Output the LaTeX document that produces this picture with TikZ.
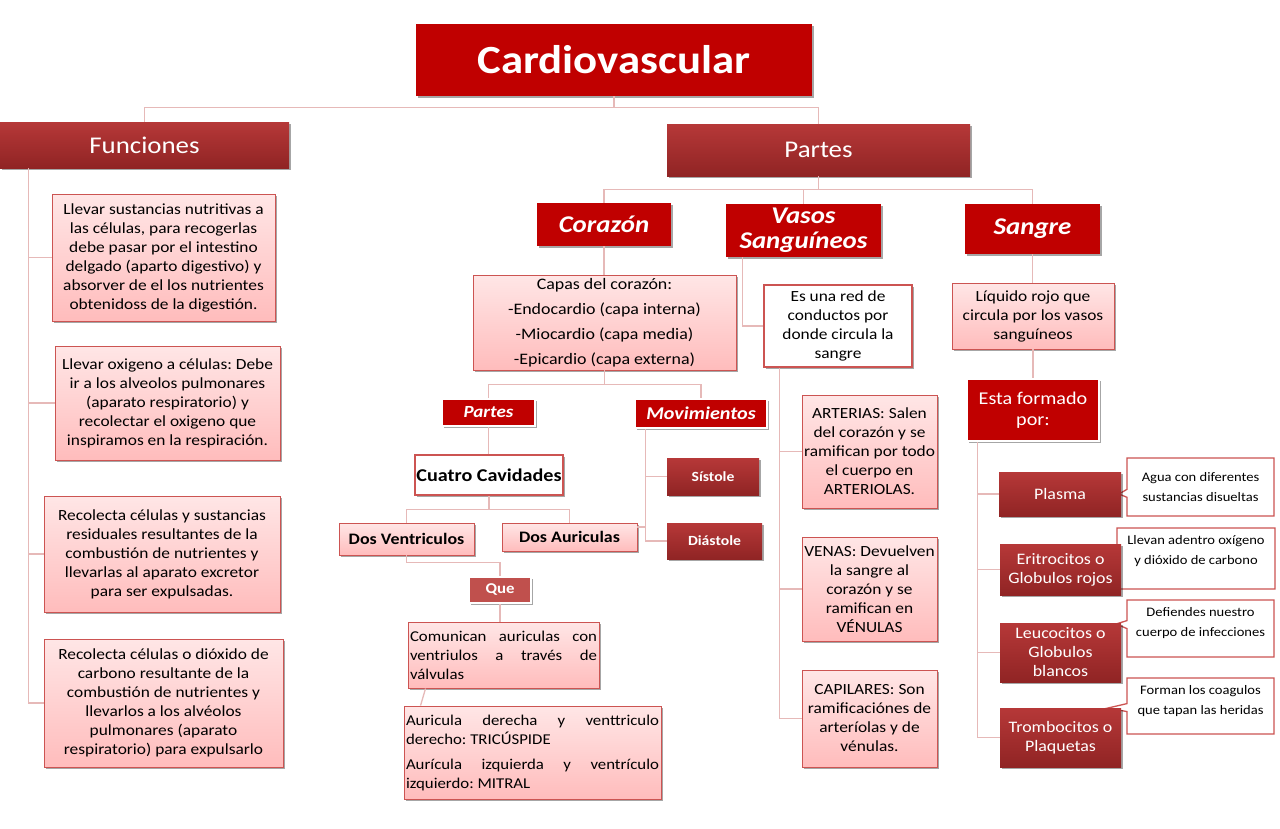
\documentclass[tikz,border=0pt]{standalone}
\usepackage{fontspec}
\setmainfont{Carlito}[FakeStretch=1.12]
\usetikzlibrary{shadows,shapes.callouts}
\frenchspacing
\definecolor{cred}{RGB}{192,0,0}
\definecolor{gtop}{RGB}{182,56,56}
\definecolor{gbot}{RGB}{144,36,36}
\definecolor{ptop}{RGB}{255,230,230}
\definecolor{pbot}{RGB}{255,188,188}
\definecolor{pline}{RGB}{204,84,82}
\definecolor{conc}{RGB}{230,185,184}
\definecolor{quec}{RGB}{192,80,77}
\newcommand\bx[7]{%
  \pgfmathsetmacro\bxw{#5-#3}\pgfmathsetmacro\bxh{#6-#4}%
  \pgfmathsetmacro\bxcx{(#3+#5)/2}\pgfmathsetmacro\bxcy{(#4+#6)/2}%
  \node[#2, minimum width=\bxw pt, minimum height=\bxh pt] (#1) at (\bxcx,\bxcy) {#7};}
\begin{document}
\begin{tikzpicture}[x=1pt,y=-1pt,
  conn/.style={draw=conc, line width=1.3pt},
  shad/.style={drop shadow={shadow xshift=1.5pt,shadow yshift=-1.8pt,fill=black,opacity=0.35}},
  base/.style={inner sep=0pt, align=center},
  darkbox/.style={base, fill=cred, text=white, shad},
  gradbox/.style={base, top color=gtop, bottom color=gbot, text=white, shad},
  pinkbox/.style={base, top color=ptop, bottom color=pbot, draw=pline, line width=0.9pt, shad},
  whitebox/.style={base, fill=white, draw=pline, line width=1.6pt, shad},
  framed/.style={darkbox, draw=white, line width=2.5pt},
  callbox/.style={base, rectangle callout, callout pointer width=8pt, fill=white, draw=pline, line width=1.3pt},
  ftxt/.style={font=\fontsize{15.5}{19}\selectfont},
]
\useasboundingbox (0,0) rectangle (1280,828);
\fill[white] (0,0) rectangle (1280,828);

% top level
\bx{cardio}{darkbox,font=\fontsize{40}{44}\bfseries}{416}{24}{812}{96}{Cardiovascular}
\bx{fun}{gradbox,font=\fontsize{24}{28}\selectfont}{0}{122}{289}{168}{Funciones}
\bx{partes}{gradbox,font=\fontsize{24}{28}\selectfont}{667}{124}{970}{176}{Partes}
\bx{cor}{darkbox,font=\fontsize{24}{28}\bfseries\itshape}{537}{203}{671}{246}{Corazón}
\bx{vas}{darkbox,font=\fontsize{24}{28}\bfseries\itshape}{726}{204}{881}{257}{\raisebox{-3pt}{Vasos}\\Sanguíneos}
\bx{san}{darkbox,font=\fontsize{24}{28}\bfseries\itshape}{965}{204}{1100}{254}{Sangre}

% funciones
\bx{f1}{pinkbox,ftxt}{52}{194}{275}{321}{Llevar sustancias nutritivas a\\las células, para recogerlas\\debe pasar por el intestino\\delgado (aparto digestivo) y\\absorver de el los nutrientes\\obtenidoss de la digestión.}
\bx{f2}{pinkbox,ftxt}{55}{346}{280}{460}{Llevar oxigeno a células: Debe\\ir a los alveolos pulmonares\\(aparato respiratorio) y\\recolectar el oxigeno que\\inspiramos en la respiración.}
\bx{f3}{pinkbox,ftxt}{44}{496}{280}{612}{Recolecta células y sustancias\\residuales resultantes de la\\combustión de nutrientes y\\llevarlas al aparato excretor\\para ser expulsadas.}
\bx{f4}{pinkbox,ftxt}{44}{639}{283}{767}{Recolecta células o dióxido de\\carbono resultante de la\\combustión de nutrientes y\\llevarlos a los alvéolos\\pulmonares (aparato\\respiratorio) para expulsarlo}

% corazon
\bx{capas}{pinkbox,font=\fontsize{16}{25}\selectfont}{473}{275}{736}{370}{Capas del corazón:\\-Endocardio (capa interna)\\-Miocardio (capa media)\\-Epicardio (capa externa)}
\bx{p2}{framed,font=\fontsize{17}{20}\bfseries\itshape}{442}{399}{535}{426}{Partes}
\bx{mov}{framed,font=\fontsize{18}{21}\bfseries\itshape}{635}{399}{767}{428}{Movimientos}
\bx{cuatro}{whitebox,font=\fontsize{18}{21}\bfseries}{415}{455}{563}{495}{Cuatro Cavidades}
\bx{dv}{pinkbox,font=\fontsize{16}{19}\bfseries}{339}{523}{474}{555}{Dos Ventriculos}
\bx{da}{pinkbox,font=\fontsize{16}{19}\bfseries}{502}{523}{637}{551}{Dos Auriculas}
\bx{que}{framed,fill=quec,font=\fontsize{15}{18}\bfseries}{469}{577}{531}{603}{Que}
\bx{com}{pinkbox,align=left,font=\fontsize{15}{19}\selectfont}{408}{622}{599}{688}{\makebox[187pt][s]{Comunican auriculas con}\\\makebox[187pt][s]{ventriulos a través de}\\válvulas}
\bx{aur}{pinkbox,align=left,font=\fontsize{15}{19}\selectfont}{404}{706}{661}{799}{\makebox[253pt][s]{Auricula derecha y venttriculo}\\derecho: TRICÚSPIDE\\[6pt]\makebox[253pt][s]{Aurícula izquierda y ventrículo}\\izquierdo: MITRAL}
\bx{sis}{gradbox,font=\fontsize{14}{17}\bfseries}{667}{458}{759}{495}{Sístole}
\bx{dia}{gradbox,font=\fontsize{14}{17}\bfseries}{667}{523}{762}{559}{Diástole}

% vasos
\bx{esred}{whitebox,ftxt}{764}{285}{912}{367}{Es una red de\\conductos por\\donde circula la\\sangre}
\bx{art}{pinkbox,ftxt}{802}{395}{937}{508}{ARTERIAS: Salen\\del corazón y se\\ramifican por todo\\el cuerpo en\\ARTERIOLAS.}
\bx{ven}{pinkbox,ftxt}{802}{537}{937}{641}{VENAS: Devuelven\\la sangre al\\corazón y se\\ramifican en\\VÉNULAS}
\bx{cap}{pinkbox,ftxt}{802}{670}{937}{767}{CAPILARES: Son\\ramificaciónes de\\arteríolas y de\\vénulas.}

% sangre
\bx{liq}{pinkbox,ftxt}{952}{283}{1114}{349}{Líquido rojo que\\circula por los vasos\\sanguíneos}
\bx{esta}{framed,font=\fontsize{18}{21}\selectfont}{967}{379}{1099}{441}{Esta formado\\por:}
\bx{agua}{callbox,callout absolute pointer={(1119,494)},font=\fontsize{13}{20}\selectfont}{1127}{458}{1274}{516}{Agua con diferentes\\sustancias disueltas}
\bx{llev}{callbox,callout absolute pointer={(1114,575)},text depth=18pt,font=\fontsize{13}{20}\selectfont}{1117}{528}{1275}{589}{Llevan adentro oxígeno\\y dióxido de carbono}
\bx{def}{callbox,callout absolute pointer={(1116,624)},text depth=13pt,font=\fontsize{13}{20}\selectfont}{1127}{600}{1274}{657}{Defiendes nuestro\\cuerpo de infecciones}
\bx{frm}{callbox,callout absolute pointer={(1108,708)},text depth=12pt,font=\fontsize{13}{20}\selectfont}{1127}{678}{1274}{734}{Forman los coagulos\\que tapan las heridas}
\bx{pla}{gradbox,font=\fontsize{16}{19}\selectfont}{999}{472}{1121}{516}{Plasma}
\bx{eri}{gradbox,font=\fontsize{16}{19}\selectfont}{1000}{544}{1121}{595}{Eritrocitos o\\Globulos rojos}
\bx{leu}{gradbox,font=\fontsize{16}{19}\selectfont}{1000}{623}{1121}{682}{Leucocitos o\\Globulos\\blancos}
\bx{tro}{gradbox,font=\fontsize{16}{19}\selectfont}{1000}{708}{1121}{767}{Trombocitos o\\Plaquetas}

% connectors
\draw[conn] (cardio.south) -- ++(0,11) coordinate (jc) -| (fun.north);
\draw[conn] (jc) -| (partes.north);
\draw[conn] (partes.south) -- ++(0,13) coordinate (jp) -| (cor.north);
\draw[conn] (jp) -| (vas.north);
\draw[conn] (jp) -| (san.north);
\coordinate (fl) at ([xshift=29pt]fun.south west);
\draw[conn] (fl) |- (f1.west);
\draw[conn] (fl) |- (f2.west);
\draw[conn] (fl) |- (f3.west);
\draw[conn] (fl) |- (f4.west);
\draw[conn] (cor.south) -- (cor.south |- capas.north);
\draw[conn] (capas.south) -- ++(0,14) coordinate (jk) -| (p2.north);
\draw[conn] (jk) -| (mov.north);
\draw[conn] (p2.south) -- (p2.south |- cuatro.north);
\draw[conn] (cuatro.south) -- ++(0,14) coordinate (jq) -| (dv.north);
\draw[conn] (jq) -| (da.north);
\draw[conn] (dv.south) -- ++(0,7) -| (que.north);
\draw[conn] (que.south) -- (que.south |- com.north);
\draw[conn] ([xshift=18pt]com.south west) -- ([xshift=17pt]aur.north west);
\coordinate (mv) at ([xshift=12pt]mov.south west);
\draw[conn] (mv) |- (sis.west);
\draw[conn] (mv) |- (dia.west);
\coordinate (dae) at ([yshift=10pt]da.east);
\draw[conn] (dae) -- (dae -| mv);
\coordinate (vv) at ([xshift=17pt]vas.south west);
\draw[conn] (vv) |- (esred.west);
\coordinate (ev) at ([xshift=16pt]esred.south west);
\draw[conn] (ev) |- (art.west);
\draw[conn] (ev) |- (ven.west);
\draw[conn] (ev) |- (cap.west);
\draw[conn] (san.south) -- (san.south |- liq.north);
\draw[conn] (liq.south) -- (liq.south |- esta.north);
\coordinate (ew) at ([xshift=12pt]esta.south west);
\draw[conn] (ew) |- (pla.west);
\draw[conn] (ew) |- (eri.west);
\draw[conn] (ew) |- (leu.west);
\draw[conn] (ew) |- (tro.west);
\end{tikzpicture}
\end{document}
